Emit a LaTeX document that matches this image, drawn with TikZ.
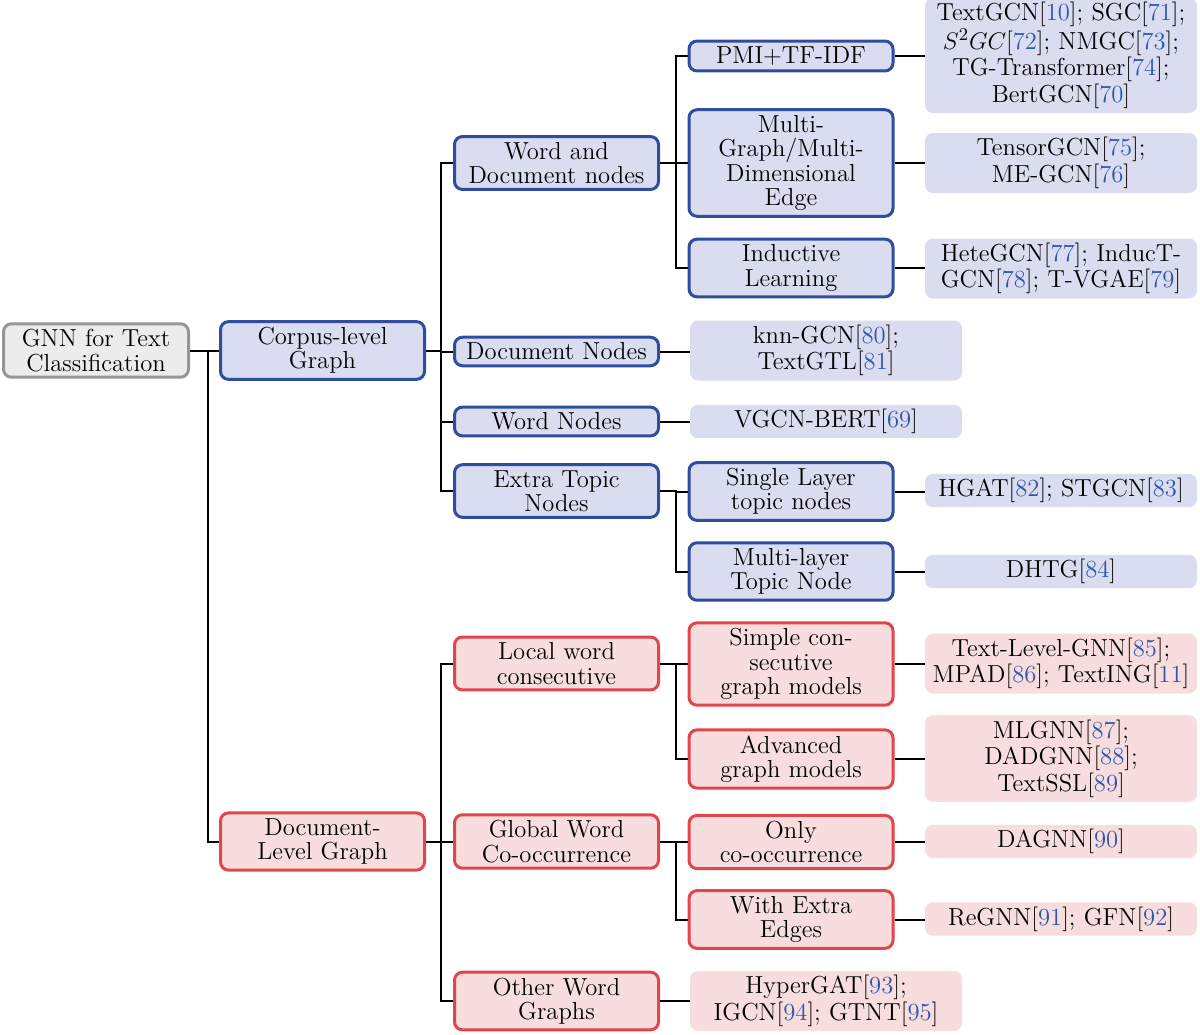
\documentclass[tikz,border=0pt]{standalone}
\usepackage{xcolor}
\usepackage{tikz}
\usetikzlibrary{positioning,calc}

\definecolor{rootfill}{RGB}{236,236,236}
\definecolor{rootline}{RGB}{150,150,150}
\definecolor{corpusfill}{RGB}{218,220,239}
\definecolor{corpusline}{RGB}{46,76,160}
\definecolor{docfill}{RGB}{247,221,221}
\definecolor{docline}{RGB}{224,70,76}
\definecolor{citeblue}{RGB}{48,86,168}

\newcommand{\cit}[1]{[{\color{citeblue}#1}]}

\tikzset{
  base/.style={rounded corners=4pt, align=center, inner xsep=2pt, inner ysep=2.8pt},
  rootbox/.style={base, draw=rootline, fill=rootfill, line width=1.5pt, text width=88.5pt},
  corpusbox/.style={base, draw=corpusline, fill=corpusfill, line width=1.5pt, text width=98pt},
  docbox/.style={base, draw=docline, fill=docfill, line width=1.5pt, text width=98pt},
  corpusleaf/.style={base, fill=corpusfill, inner ysep=2.2pt, text width=132pt},
  docleaf/.style={base, fill=docfill, inner ysep=2.2pt, text width=132pt},
  link/.style={line width=1pt}
}

\begin{document}
\begin{tikzpicture}[x=0.5pt, y=-0.5pt, font=\fontsize{12.3}{12.2}\selectfont]
  \useasboundingbox (0,0) rectangle (1200,1034);

  % Root and first level
  \node[rootbox] (root) at (96,350.5) {GNN for Text\\Classification};
  \node[corpusbox] (corpus) at (322.5,350.5) {Corpus-level\\Graph};
  \node[docbox] (doclevel) at (322.5,841.5) {Document-\\Level Graph};

  % Corpus-level branches
  \node[corpusbox] (wordDoc) at (556.5,163) {Word and\\Document nodes};
  \node[corpusbox] (docNodes) at (556.5,351.5) {Document Nodes};
  \node[corpusbox] (wordNodes) at (556.5,421.5) {Word Nodes};
  \node[corpusbox] (extraTopic) at (556.5,491) {Extra Topic\\Nodes};

  \node[corpusbox] (pmi) at (791,56) {PMI+TF-IDF};
  \node[corpusbox] (multiGraph) at (791,163) {Multi-\\Graph/Multi-\\Dimensional\\Edge};
  \node[corpusbox] (inductive) at (791,268) {Inductive\\Learning};
  \node[corpusbox] (singleLayer) at (791,491.5) {Single Layer\\topic nodes};
  \node[corpusbox] (multiLayer) at (791,571.5) {Multi-layer\\Topic Node};

  \node[corpusleaf] (refPmi) at (1061,55.5) {TextGCN\cit{10}; SGC\cit{71};\\$S^2GC$\cit{72}; NMGC\cit{73};\\TG-Transformer\cit{74};\\BertGCN\cit{70}};
  \node[corpusleaf] (refMulti) at (1061,163) {TensorGCN\cit{75};\\ME-GCN\cit{76}};
  \node[corpusleaf] (refInductive) at (1061,268.5) {HeteGCN\cit{77}; InducT-\\GCN\cit{78}; T-VGAE\cit{79}};
  \node[corpusleaf] (refDocNodes) at (826,350.5) {knn-GCN\cit{80};\\TextGTL\cit{81}};
  \node[corpusleaf] (refWordNodes) at (826,421.5) {VGCN-BERT\cit{69}};
  \node[corpusleaf] (refSingle) at (1061,490.5) {HGAT\cit{82}; STGCN\cit{83}};
  \node[corpusleaf] (refMultiLayer) at (1061,571.5) {DHTG\cit{84}};

  % Document-level branches
  \node[docbox] (localWord) at (556.5,663.5) {Local word\\consecutive};
  \node[docbox] (globalWord) at (556.5,841.5) {Global Word\\Co-occurrence};
  \node[docbox] (otherWord) at (556.5,1001) {Other Word\\Graphs};

  \node[docbox] (simpleCons) at (791,664) {Simple con-\\secutive\\graph models};
  \node[docbox] (advanced) at (791,759) {Advanced\\graph models};
  \node[docbox] (onlyCo) at (791,842) {Only\\co-occurrence};
  \node[docbox] (extraEdges) at (791,919.5) {With Extra\\Edges};

  \node[docleaf] (refSimple) at (1061,663.5) {Text-Level-GNN\cit{85};\\MPAD\cit{86}; TextING\cit{11}};
  \node[docleaf] (refAdvanced) at (1061,758.5) {MLGNN\cit{87};\\DADGNN\cit{88};\\TextSSL\cit{89}};
  \node[docleaf] (refOnlyCo) at (1061,841.5) {DAGNN\cit{90}};
  \node[docleaf] (refExtra) at (1061,919) {ReGNN\cit{91}; GFN\cit{92}};
  \node[docleaf] (refOther) at (826,1001) {HyperGAT\cit{93};\\IGCN\cit{94}; GTNT\cit{95}};

  % Tree connectors
  \foreach \child in {corpus, doclevel}
    \draw[link] (root.east) -- ++(18,0) |- (\child.west);
  \foreach \child in {wordDoc, docNodes, wordNodes, extraTopic}
    \draw[link] (corpus.east) -- ++(15,0) |- (\child.west);
  \foreach \child in {localWord, globalWord, otherWord}
    \draw[link] (doclevel.east) -- ++(15,0) |- (\child.west);
  \foreach \child in {pmi, multiGraph, inductive}
    \draw[link] (wordDoc.east) -- ++(16,0) |- (\child.west);
  \foreach \child in {singleLayer, multiLayer}
    \draw[link] (extraTopic.east) -- ++(16,0) |- (\child.west);
  \foreach \child in {simpleCons, advanced}
    \draw[link] (localWord.east) -- ++(16,0) |- (\child.west);
  \foreach \child in {onlyCo, extraEdges}
    \draw[link] (globalWord.east) -- ++(16,0) |- (\child.west);

  % Leaf connectors
  \foreach \from/\to in {pmi/refPmi, multiGraph/refMulti, inductive/refInductive,
      docNodes/refDocNodes, wordNodes/refWordNodes, singleLayer/refSingle,
      multiLayer/refMultiLayer, simpleCons/refSimple, advanced/refAdvanced,
      onlyCo/refOnlyCo, extraEdges/refExtra, otherWord/refOther}
    \draw[link] (\from.east) -- (\from.east -| \to.west);
\end{tikzpicture}
\end{document}
